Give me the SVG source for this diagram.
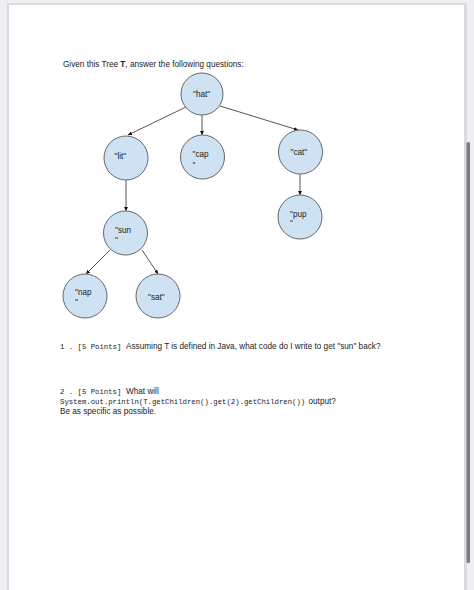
<svg xmlns="http://www.w3.org/2000/svg" width="474" height="590" viewBox="0 0 474 590">
<style>
.node circle{fill:#cfe2f3;stroke:#666;stroke-width:1}
.lbl{font-family:"Liberation Sans",Arial,sans-serif;font-size:8.2px;fill:#222}
.txt{font-family:"Liberation Sans",Arial,sans-serif;font-size:8.2px;fill:#222}
.mono{font-family:"Liberation Mono","Courier New",monospace;font-size:7.3px;fill:#222}
.edge{stroke:#555;stroke-width:1;fill:none;marker-end:url(#ah)}
</style>
<defs>
<marker id="ah" viewBox="0 0 6 6" refX="6" refY="3" markerWidth="4" markerHeight="4" markerUnits="userSpaceOnUse" orient="auto">
<path d="M0,0 L6,3 L0,6 z" fill="#111"/>
</marker>
</defs>
<!-- page frame -->
<rect x="0" y="0" width="474" height="590" fill="#eeeef3"/>
<rect x="7" y="3" width="460" height="590" fill="#d9d9df"/>
<rect x="9" y="5" width="455" height="590" fill="#ffffff"/>
<rect x="466.5" y="142" width="3.5" height="421" rx="1.5" fill="#7d7d80"/>

<text class="txt" x="63" y="67">Given this Tree <tspan font-weight="bold">T</tspan>, answer the following questions:</text>

<g id="connectors">
<line class="edge" x1="186" y1="107" x2="128" y2="135"/>
<line class="edge" x1="202" y1="115" x2="202" y2="135"/>
<line class="edge" x1="220" y1="106" x2="298" y2="130"/>
<line class="edge" x1="126" y1="180" x2="126" y2="211"/>
<line class="edge" x1="300" y1="174" x2="300" y2="195"/>
<line class="edge" x1="110" y1="250" x2="86" y2="274"/>
<line class="edge" x1="142" y1="250" x2="158" y2="274"/>
</g>

<g id="hat" class="node"><circle cx="202" cy="94" r="21"/><text class="lbl" x="193" y="96.5">"hat"</text></g>
<g id="lit" class="node"><circle cx="126" cy="158" r="22"/><text class="lbl" x="114.5" y="158.5">"lit"</text></g>
<g id="cap" class="node"><circle cx="202.5" cy="157" r="22"/><text class="lbl" x="192.5" y="156.5">"cap</text><text class="lbl" x="192.5" y="167.5">"</text></g>
<g id="cat" class="node"><circle cx="300.5" cy="152" r="22"/><text class="lbl" x="290.5" y="155">"cat"</text></g>
<g id="pup" class="node"><circle cx="300" cy="217" r="22"/><text class="lbl" x="290" y="216.5">"pup</text><text class="lbl" x="290" y="226">"</text></g>
<g id="sun" class="node"><circle cx="125.5" cy="233" r="22"/><text class="lbl" x="115" y="233">"sun</text><text class="lbl" x="115" y="242.5">"</text></g>
<g id="nap" class="node"><circle cx="85" cy="296" r="22"/><text class="lbl" x="75" y="294.5">"nap</text><text class="lbl" x="75" y="305">"</text></g>
<g id="sat" class="node"><circle cx="158" cy="296" r="22"/><text class="lbl" x="148" y="299.5">"sat"</text></g>

<text class="mono" x="60" y="349">1 . [5 Points]</text>
<text class="txt" x="126" y="349" textLength="254.5" lengthAdjust="spacingAndGlyphs">Assuming T is defined in Java, what code do I write to get "sun" back?</text>
<text class="mono" x="60" y="394">2 . [5 Points]</text>
<text class="txt" x="126" y="394">What will</text>
<text class="mono" x="60" y="403.5">System.out.println(T.getChildren().get(2).getChildren())</text>
<text class="txt" x="308.5" y="403.5">output?</text>
<text class="txt" x="60" y="413.5">Be as specific as possible.</text>
</svg>
